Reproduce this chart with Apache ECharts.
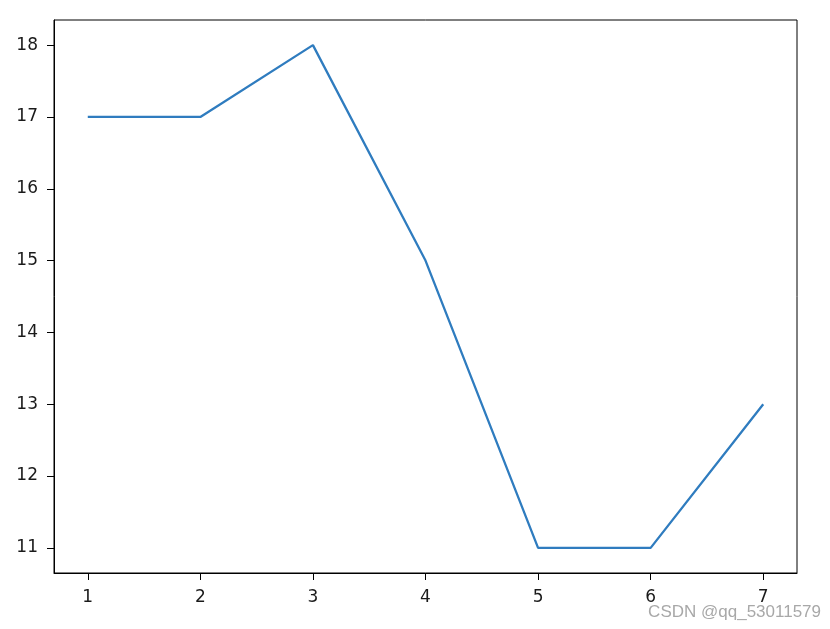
<!DOCTYPE html>
<html>
<head>
<meta charset="utf-8">
<script src="https://cdn.jsdelivr.net/npm/echarts@6/dist/echarts.min.js"></script>
<style>html,body{margin:0;padding:0;background:#fff;}#c{width:830px;height:629px;}</style>
</head>
<body>
<div id="c"></div>
<script>
const xValues = [1, 2, 3, 4, 5, 6, 7];
const yValues = [17, 17, 18, 15, 11, 11, 13];
const xTicks = [1, 2, 3, 4, 5, 6, 7];
const yTicks = [11, 12, 13, 14, 15, 16, 17, 18];
const watermark = 'CSDN @qq_53011579';

const chart = echarts.init(document.getElementById('c'), null, {renderer: 'canvas'});
const font = 'DejaVu Sans';
const axisCommon = {
  axisLine: {show: true, onZero: false, lineStyle: {color: '#000', width: 1}},
  splitLine: {show: false},
};
chart.setOption({
  animation: false,
  backgroundColor: '#fff',
  grid: {left: 54, right: 33, top: 20, bottom: 56, show: true, borderColor: '#000', borderWidth: 1, containLabel: false},
  xAxis: Object.assign({}, axisCommon, {
    type: 'value', min: 0.7, max: 7.3,
    axisTick: {show: true, length: 7, inside: false, customValues: xTicks, lineStyle: {color: '#000', width: 1}},
    axisLabel: {show: true, customValues: xTicks, margin: 16, fontFamily: font, fontSize: 17, color: '#1a1a1a'}
  }),
  yAxis: Object.assign({}, axisCommon, {
    type: 'value', min: 10.65, max: 18.35,
    axisTick: {show: true, length: 7, inside: false, customValues: yTicks, lineStyle: {color: '#000', width: 1}},
    axisLabel: {show: true, customValues: yTicks, margin: 16, fontFamily: font, fontSize: 17, color: '#1a1a1a'}
  }),
  series: [{
    type: 'line',
    data: xValues.map((x, i) => [x, yValues[i]]),
    showSymbol: false,
    symbol: 'none',
    lineStyle: {color: '#2f7cbf', width: 2.3},
    z: 5
  }],
  graphic: [{
    type: 'text',
    right: 9,
    bottom: 8,
    z: 10,
    style: {text: watermark, fontFamily: 'Liberation Sans', fontSize: 17, fill: '#a8a8a8'}
  }]
});
</script>
</body>
</html>
